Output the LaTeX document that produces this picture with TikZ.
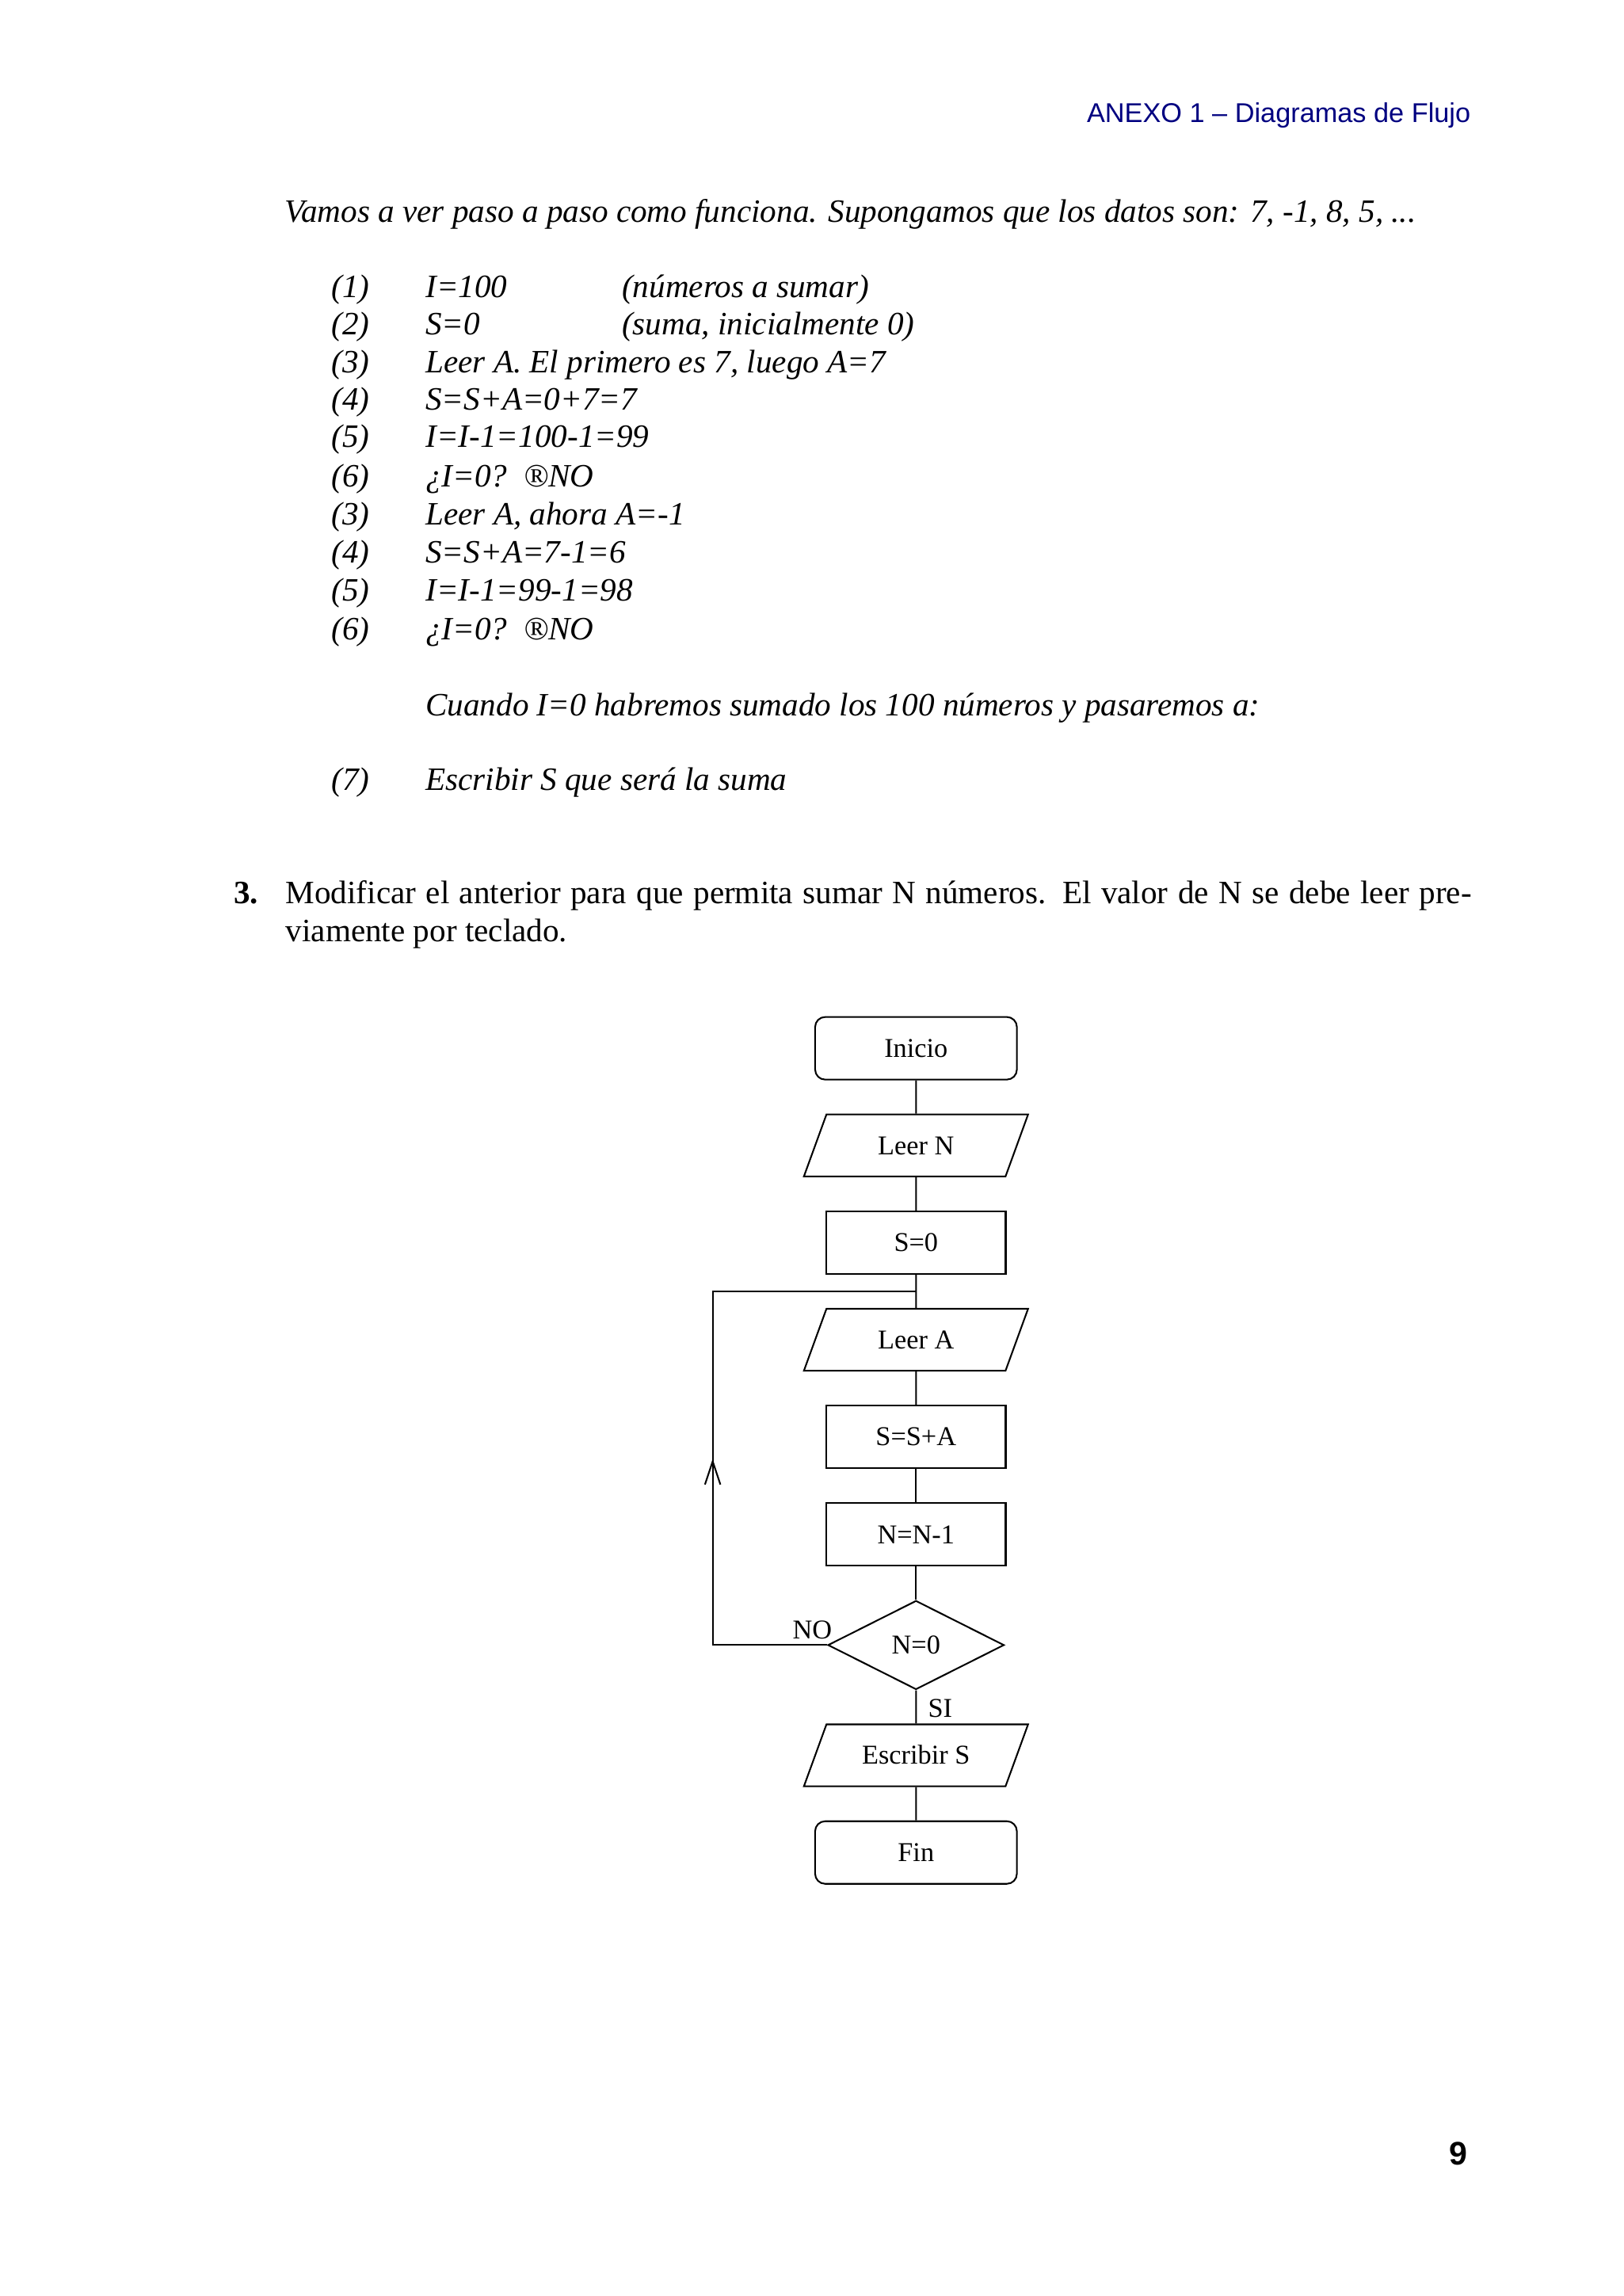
\documentclass[tikz,border=0pt]{standalone}
\usepackage{fontspec}
\setmainfont{Liberation Serif}
\newfontfamily\headfont{Liberation Sans}
\usepackage{tikz}
\usetikzlibrary{arrows.meta,positioning,shapes.geometric}
\usepackage{xcolor}
\definecolor{headblue}{RGB}{0,0,128}
\tikzset{
  term/.style ={rectangle, rounded corners=1.3mm, draw=black, line width=0.6pt,
                font=\normalsize, minimum width=26.1mm, minimum height=8.1mm,
                inner sep=1pt},
  proc/.style ={term, sharp corners, minimum width=23.2mm},        % proceso
  io/.style   ={trapezium, trapezium left angle=70, trapezium right angle=110,
                trapezium stretches body, draw=black, line width=0.6pt,
                font=\normalsize, minimum width=29mm, text height=6.6pt,
                text depth=0pt, inner xsep=1pt, inner ysep=8.1pt}, % entrada / salida
  dec/.style  ={diamond, aspect=2, draw=black, line width=0.6pt, font=\normalsize,
                minimum width=22.8mm, minimum height=11.5mm, inner sep=0pt},
  lbl/.style  ={inner sep=0pt, font=\normalsize},
  link/.style ={line width=0.6pt, draw=black},
  back/.style ={link, -{Straight Barb[length=3mm, width=2mm]}},
  txt/.style  ={anchor=base west, inner sep=0pt, font=\large\itshape},
}

\begin{document}
\begin{tikzpicture}[node distance=4.3mm]
  \useasboundingbox (0,0) rectangle (210mm,-297mm);
  % cabecera y numero de pagina
  \node[anchor=base east, inner sep=0pt, font=\headfont\normalsize, text=headblue]
    (head) at (190.3mm,-15.8mm) {ANEXO 1 – Diagramas de Flujo};
  \node[anchor=base east, inner sep=0pt, font=\headfont\bfseries\large]
    (pag) at (189.9mm,-280.0mm) {9};
  % traza paso a paso
  \node[txt] (intro) at (36.8mm,-28.7mm)
    {Vamos a ver paso a paso como funciona. Supongamos que los datos son: 7, -1, 8, 5, ...};
  \foreach \y/\n/\t [count=\k] in {38.5/1/{I=100}, 43.3/2/{S=0},
      48.2/3/{Leer A. El primero es 7, luego A=7}, 53.0/4/{S=S+A=0+7=7},
      57.9/5/{I=I-1=100-1=99}, 63.0/6/{¿I=0?\ \ ®NO}, 67.9/3/{Leer A, ahora A=-1},
      72.8/4/{S=S+A=7-1=6}, 77.7/5/{I=I-1=99-1=98}, 82.8/6/{¿I=0?\ \ ®NO}} {
    \node[txt] (num\k) at (42.8mm,-\y mm) {(\n)};
    \node[txt] (paso\k) at (55.0mm,-\y mm) {\t};
  }
  \node[txt] (nota1) at (80.4mm,-38.5mm) {(números a sumar)};
  \node[txt] (nota2) at (80.4mm,-43.3mm) {(suma, inicialmente 0)};
  \node[txt] (cuando) at (55.0mm,-92.6mm)
    {Cuando I=0 habremos sumado los 100 números y pasaremos a:};
  \node[txt] (num7) at (42.8mm,-102.2mm) {(7)};
  \node[txt] (paso7) at (55.0mm,-102.2mm) {Escribir S que será la suma};
  % enunciado 3
  \node[txt, font=\large\bfseries] (ej3) at (30.2mm,-116.9mm) {3.};
  \node[txt, font=\large] (enun1) at (36.9mm,-116.9mm)
    {\makebox[153.4mm][s]{Modificar el anterior para que permita sumar N números. El valor de N se debe leer pre-}};
  \node[txt, font=\large] (enun2) at (36.9mm,-121.8mm) {viamente por teclado.};
  % diagrama
  \node[term]               (ini)   at (118.5mm,-135.6mm) {Inicio};
  \node[io, below=of ini]   (leern) {Leer N};
  \node[proc, below=of leern] (s0)  {S=0};
  \node[io, below=of s0]    (leera) {Leer A};
  \node[proc, below=of leera] (suma) {S=S+A};
  \node[proc, below=of suma] (decr) {N=N-1};
  \node[dec, below=of decr] (test)  {N=0};
  \node[io, below=of test]  (escr)  {Escribir S};
  \node[term, below=of escr] (fin)  {Fin};
  \draw[link] (ini) -- (leern);
  \draw[link] (leern) -- (s0);
  \draw[link] (s0) -- (leera);
  \draw[link] (leera) -- (suma);
  \draw[link] (suma) -- (decr);
  \draw[link] (decr) -- (test);
  \draw[link] (test) -- (escr);
  \draw[link] (escr) -- (fin);
  % lazo de vuelta
  \coordinate[left=14.8mm of test.west] (lazob);
  \coordinate[below=2.2mm of s0.south] (union);
  \coordinate[above=24.1mm of lazob] (flecha);
  \draw[link] (test.west) -- (lazob) |- (union);
  \draw[back] (lazob) -- (flecha);
  \node[lbl, anchor=base east] (no) at ([xshift=0.7mm, yshift=0.8mm]test.west) {NO};
  \node[lbl, anchor=base west] (si) at ([xshift=1.5mm, yshift=-3.5mm]test.south) {SI};
\end{tikzpicture}
\end{document}
